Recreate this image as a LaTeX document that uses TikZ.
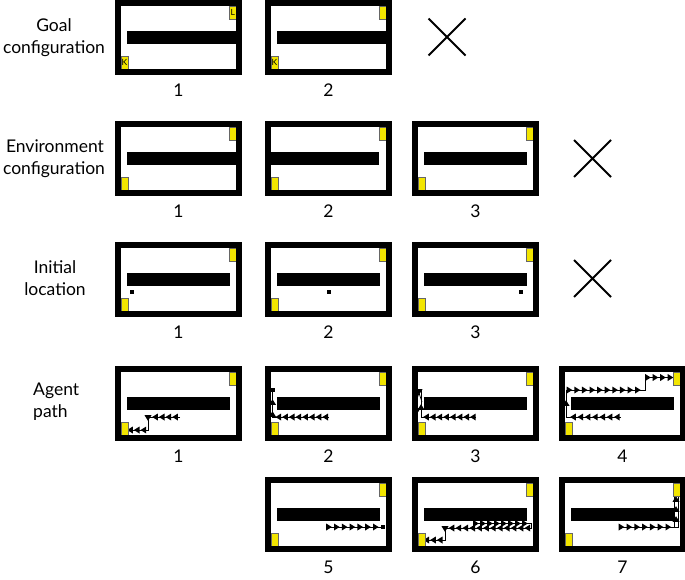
\documentclass[tikz,border=0pt]{standalone}
\usepackage{fontspec}
\setmainfont{Lato}
\definecolor{yel}{RGB}{242,229,0}
\tikzset{
  frame/.style={line width=6pt},
  goalsq/.style={fill=yel, draw=black!60, line width=0.5pt},
  trail/.style={line width=0.9pt},
  cross/.style={line width=2pt},
  lab/.style={font=\fontsize{17.5}{20}\selectfont, anchor=base, inner sep=0pt},
  num/.style={font=\fontsize{17.5}{20}\selectfont, anchor=base, inner sep=0pt},
  tinylab/.style={font=\fontsize{8.5}{8.5}\selectfont, inner sep=0pt}
}
\newcommand\mzframe{\draw[frame] (3,3) rectangle (124,72);}
\newcommand\barR{\fill (12,31) rectangle (122,44);}
\newcommand\barL{\fill (5,31) rectangle (114,44);}
\newcommand\barF{\fill (12,31) rectangle (115,44);}
\newcommand\goals{\filldraw[goalsq] (114,6) rectangle (121.3,19); \filldraw[goalsq] (6,56) rectangle (13,69);}
\newcommand\aL[2]{\fill ({#1-2.8},{#2}) -- ({#1+2.8},{#2-3.5}) -- ({#1+2.8},{#2+3.5}) -- cycle;}
\newcommand\aR[2]{\fill ({#1+2.8},{#2}) -- ({#1-2.8},{#2-3.5}) -- ({#1-2.8},{#2+3.5}) -- cycle;}
\newcommand\aU[2]{\fill ({#1},{#2-2.8}) -- ({#1-3.5},{#2+2.8}) -- ({#1+3.5},{#2+2.8}) -- cycle;}
\newcommand\aD[2]{\fill ({#1},{#2+2.8}) -- ({#1-3.5},{#2-2.8}) -- ({#1+3.5},{#2-2.8}) -- cycle;}
\newcommand\tipsq[2]{\fill ({#1-2},{#2-2}) rectangle ({#1+2},{#2+2});}
\begin{document}
\begin{tikzpicture}[x=1pt,y=-1pt]
\useasboundingbox (0,0) rectangle (685,579);
\fill[white] (0,0) rectangle (685,579);

% ---------- row labels ----------
\node[lab] (lg1) at (54,31.5) {Goal};
\node[lab] (lg2) at (54,53.5) {configuration};
\node[lab] (le1) at (55,152.5) {Environment};
\node[lab] (le2) at (54,174.5) {configuration};
\node[lab] (li1) at (55,273.5) {Initial};
\node[lab] (li2) at (55,295.5) {location};
\node[lab, anchor=base west] (la1) at (33,395) {Agent};
\node[lab, anchor=base west] (la2) at (33,417) {path};

% ---------- goal configuration ----------
\begin{scope}[shift={(115,0)}]
  \barR \goals
  \node[tinylab] (gL) at (117.7,12.5) {L};
  \node[tinylab] (gK1) at (9.5,62.5) {K};
  \mzframe
\end{scope}
\begin{scope}[shift={(265,0)}]
  \barR \goals
  \node[tinylab] (gK2) at (9.5,62.5) {K};
  \mzframe
\end{scope}
\draw[cross] (428.5,18.5) -- (465.5,55.5) (428.5,55.5) -- (465.5,18.5);
\node[num] (n11) at (178.5,96) {1};
\node[num] (n12) at (328.5,96) {2};

% ---------- environment configuration ----------
\begin{scope}[shift={(115,121)}] \barR \goals \mzframe \end{scope}
\begin{scope}[shift={(265,121)}] \barL \goals \mzframe \end{scope}
\begin{scope}[shift={(412,121)}] \barF \goals \mzframe \end{scope}
\draw[cross] (574,140) -- (611,177) (574,177) -- (611,140);
\node[num] (n21) at (178.5,217) {1};
\node[num] (n22) at (328.5,217) {2};
\node[num] (n23) at (475.5,217) {3};

% ---------- initial location ----------
\begin{scope}[shift={(115,242)}] \barF \goals \tipsq{17}{50} \mzframe \end{scope}
\begin{scope}[shift={(265,242)}] \barF \goals \tipsq{64}{50} \mzframe \end{scope}
\begin{scope}[shift={(412,242)}] \barF \goals \tipsq{109}{50} \mzframe \end{scope}
\draw[cross] (574,260) -- (611,297) (574,297) -- (611,260);
\node[num] (n31) at (178.5,338) {1};
\node[num] (n32) at (328.5,338) {2};
\node[num] (n33) at (475.5,338) {3};

% ---------- agent paths ----------
% path 1
\begin{scope}[shift={(115,366)}]
  \barF
  \draw[trail] (65,51) -- (33,51) -- (33,64) -- (12,64);
  \foreach \k in {0,...,3} {\aL{40+6.7*\k}{51}}
  \aD{33}{52}
  \foreach \k in {0,...,2} {\aL{15+6.7*\k}{64}}
  \goals \mzframe
\end{scope}
% path 2
\begin{scope}[shift={(265,366)}]
  \barF
  \draw[trail] (64,51) -- (7.5,51) -- (7.5,24);
  \foreach \k in {0,...,7} {\aL{13.3+6.7*\k}{51}}
  \aU{7.5}{36} \aU{7.5}{48}
  \tipsq{7.5}{24}
  \goals \mzframe
\end{scope}
% path 3
\begin{scope}[shift={(412,366)}]
  \barF
  \draw[trail] (64,51) -- (9,51) -- (9,24) -- (5,24) -- (5,58);
  \foreach \k in {0,...,7} {\aL{14+6.7*\k}{51}}
  \aD{7}{26}
  \draw[line width=0.7pt] (7,27) -- (4,36) (7,27) -- (10,36);
  \aU{9}{41} \aD{5}{45}
  \goals \mzframe
\end{scope}
% path 4
\begin{scope}[shift={(559,366)}]
  \barF
  \draw[trail] (62,51) -- (7,51) -- (7,24) -- (86,24) -- (86,11.5) -- (114,11.5);
  \foreach \k in {0,...,6} {\aL{14+7.3*\k}{51}}
  \aU{7}{37}
  \foreach \k in {0,...,9} {\aR{10.5+7.6*\k}{24}}
  \foreach \k in {0,...,3} {\aR{89+7.5*\k}{11.5}}
  \goals \mzframe
\end{scope}
% path 5
\begin{scope}[shift={(265,477)}]
  \barF
  \draw[trail] (62,50) -- (118,50);
  \foreach \k in {0,...,6} {\aR{64+7.8*\k}{50}}
  \tipsq{118}{50}
  \goals \mzframe
\end{scope}
% path 6
\begin{scope}[shift={(412,477)}]
  \barF
  \draw[trail] (64,46.5) -- (119,46.5) -- (119,51) -- (33,51) -- (33,63) -- (12,63);
  \foreach \k in {0,...,7} {\aR{64+7*\k}{46.5}}
  \foreach \k in {0,...,11} {\aL{39.5+6.9*\k}{51}}
  \aD{33}{52}
  \foreach \k in {0,...,2} {\aL{14.3+6.7*\k}{63}}
  \goals \mzframe
\end{scope}
% path 7
\begin{scope}[shift={(559,477)}]
  \barF
  \draw[trail] (61,50) -- (119.5,50) -- (119.5,16);
  \draw[trail] (115,50) -- (115,16);
  \foreach \k in {0,...,6} {\aR{62.5+7.8*\k}{50}}
  \aU{117}{22} \aU{117}{32} \aU{117}{42}
  \goals \mzframe
\end{scope}
\node[num] (n41) at (178.5,462) {1};
\node[num] (n42) at (328.5,462) {2};
\node[num] (n43) at (475.5,462) {3};
\node[num] (n44) at (622.5,462) {4};
\node[num] (n55) at (328.5,573) {5};
\node[num] (n56) at (475.5,573) {6};
\node[num] (n57) at (622.5,573) {7};
\end{tikzpicture}
\end{document}
